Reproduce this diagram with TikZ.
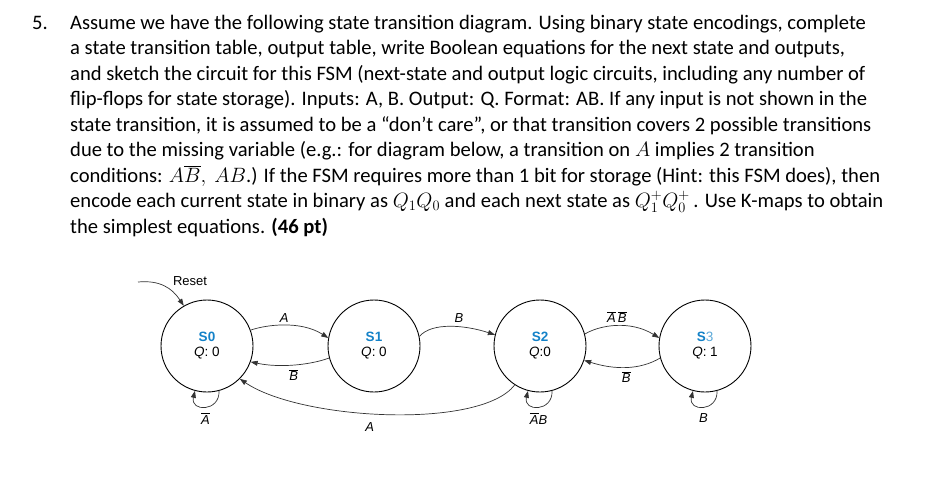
\documentclass[tikz,border=0pt]{standalone}
\usepackage{fontspec}
\setmainfont{Carlito}
\newfontfamily\dsf{Liberation Sans}
\usetikzlibrary{arrows.meta}
\definecolor{sblue}{RGB}{20,130,200}
\newcommand{\ovl}[1]{$\overline{\mbox{#1}}$}
\begin{document}
\begin{tikzpicture}[x=1pt,y=-1pt,
  txt/.style={anchor=base west,inner sep=0,font=\fontsize{20.6}{24}\selectfont},
  st/.style={circle,draw,line width=0.9pt,minimum size=92pt,inner sep=0,align=center,font=\dsf\fontsize{13.5}{16}\selectfont},
  lb/.style={font=\dsf\itshape\fontsize{13}{14}\selectfont,inner sep=1pt},
  ar/.style={-{Triangle[length=7pt,width=5pt]},line width=0.7pt,draw=black!80}]
\useasboundingbox (0,0) rectangle (945,485);
\node[txt] (n5) at (32,29) {5.};
\node[txt] (l1) at (70,29) {Assume we have the following state transition diagram. Using binary state encodings, complete};
\node[txt] (l2) at (70,54.5) {a state transition table, output table, write Boolean equations for the next state and outputs,};
\node[txt] (l3) at (70,80) {and sketch the circuit for this FSM (next-state and output logic circuits, including any number of};
\node[txt] (l4) at (70,105.5) {flip-flops for state storage). Inputs: A, B. Output: Q. Format: AB. If any input is not shown in the};
\node[txt] (l5) at (70,131) {state transition, it is assumed to be a “don’t care”, or that transition covers 2 possible transitions};
\node[txt] (l6) at (70,156.5) {due to the missing variable (e.g.: for diagram below, a transition on $A$ implies 2 transition};
\node[txt] (l7) at (70,182) {conditions: $A\overline{B},\ AB$.) If the FSM requires more than 1 bit for storage (Hint: this FSM does), then};
\node[txt] (l8) at (70,207.5) {encode each current state in binary as $Q_1Q_0$ and each next state as $Q_1^+Q_0^+$\,. Use K-maps to obtain};
\node[txt] (l9) at (70,233) {the simplest equations. \textbf{(46 pt)}};

\node[st] (s0) at (207,346) {\textcolor{sblue}{\bfseries S0}\\[-1pt]\textit{Q}: 0};
\node[st] (s1) at (374,346) {\textcolor{sblue}{\bfseries S1}\\[-1pt]\textit{Q}: 0};
\node[st] (s2) at (540,346) {\textcolor{sblue}{\bfseries S2}\\[-1pt]\textit{Q}:0};
\node[st] (s3) at (705,346) {\textcolor{sblue}{\bfseries S}\textcolor{sblue!70}{3}\\[-1pt]\textit{Q}: 1};

\coordinate (rs) at (138,282);
\node[font=\dsf\fontsize{13}{14}\selectfont] (reset) at (190,281) {Reset};
\draw[ar] (rs) .. controls (160,280) and (172,288) .. (s0.120);

\draw[ar] (s0.20) .. controls (265,325) and (300,320) .. node[lb,above=2pt,pos=0.5]{A} (s1.170);
\draw[ar] (s1.195) .. controls (310,365) and (280,368) .. node[lb,below=3pt,pos=0.5]{\ovl{B}} (s0.340);
\draw[ar] (s1.12) .. controls (432,322) and (465,325) .. node[lb,above=3pt,pos=0.6]{B} (s2.166);
\draw[ar] (s2.15) .. controls (600,325) and (630,320) .. node[lb,above=2pt,pos=0.5]{\ovl{A}\,\ovl{B}} (s3.170);
\draw[ar] (s3.195) .. controls (640,370) and (615,370) .. node[lb,below=3pt,pos=0.5]{\ovl{B}} (s2.342);
\draw[ar] (s2.237) .. controls (480,430) and (300,420) .. node[lb,below=8pt,pos=0.55]{A} (s0.315);

\draw[ar] (s0.285) .. controls (220,412) and (190,412) .. node[lb,below=5pt,pos=0.5]{\ovl{A}} (s0.255);
\draw[ar] (s2.285) .. controls (553,412) and (523,412) .. node[lb,below=5pt,pos=0.5]{\ovl{A}B} (s2.255);
\draw[ar] (s3.285) .. controls (718,412) and (688,412) .. node[lb,below=5pt,pos=0.5]{B} (s3.255);
\end{tikzpicture}
\end{document}
